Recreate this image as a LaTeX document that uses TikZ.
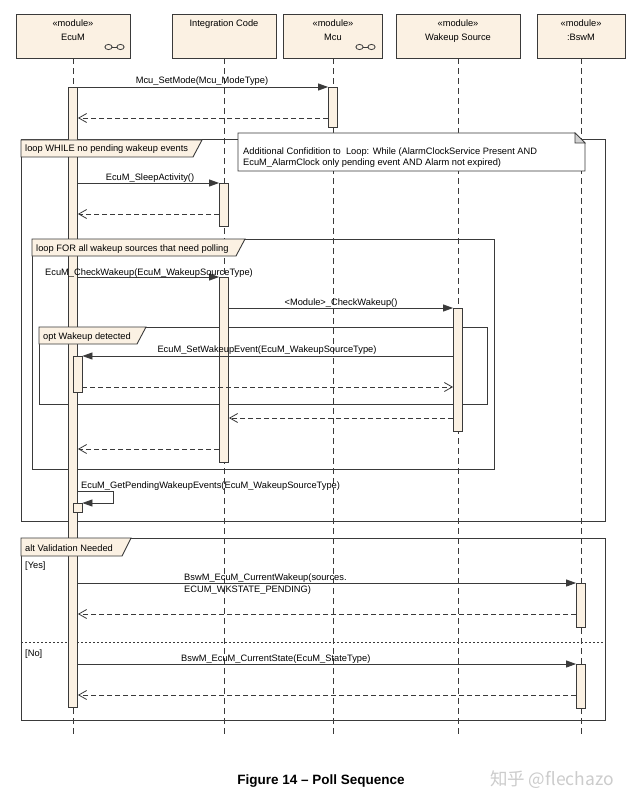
\documentclass[tikz,border=0pt]{standalone}
\usepackage{fontspec}
\setmainfont{Liberation Sans}
\newfontfamily\cjkfont{Noto Sans CJK SC}
\usetikzlibrary{arrows.meta}
\definecolor{cream}{HTML}{FBF1E3}
\definecolor{ln}{HTML}{3A3A3A}
\begin{document}
\begin{tikzpicture}[x=1pt,y=-1pt,font=\fontsize{9.3}{10}\selectfont,
  lifeline/.style={draw=ln,dash pattern=on 6pt off 4pt,line width=0.8pt},
  headbox/.style={draw=ln,fill=cream,line width=0.9pt,inner sep=0pt},
  actbar/.style={draw=ln,fill=cream,line width=0.8pt,inner sep=0pt,minimum width=9pt,anchor=north},
  frameline/.style={draw=ln,line width=1pt},
  tagbox/.style={draw=ln,fill=cream,line width=0.9pt},
  callmsg/.style={draw=ln,line width=0.8pt,-{Triangle[length=10pt,width=7pt]}},
  retmsg/.style={draw=ln,line width=0.8pt,dash pattern=on 5pt off 3pt,-{Straight Barb[length=8pt,width=9pt]}},
  lbl/.style={inner sep=0pt,anchor=base,text=black},
  lblw/.style={inner sep=0pt,anchor=base west,text=black},
  inf/.style={draw=ln,line width=0.8pt},
]
\fill[white] (0,0) rectangle (634,805);
\useasboundingbox (0,0) rectangle (634,805);

% ---- heads
\node[headbox,minimum width=114pt,minimum height=44pt] (hE) at (73,36) {};
\node[headbox,minimum width=104pt,minimum height=44pt] (hI) at (224,36) {};
\node[headbox,minimum width=99pt,minimum height=44pt] (hM) at (333,36) {};
\node[headbox,minimum width=124pt,minimum height=44pt] (hW) at (458,36) {};
\node[headbox,minimum width=88pt,minimum height=44pt] (hB) at (581,36) {};
\node[lbl] (tE1) at (73,27) {«module»};
\node[lbl] (tE2) at (73,41) {EcuM};
\node[lbl] (tI1) at (224,27) {Integration Code};
\node[lbl] (tM1) at (333,27) {«module»};
\node[lbl] (tM2) at (333,41) {Mcu};
\node[lbl] (tW1) at (458,27) {«module»};
\node[lbl] (tW2) at (458,41) {Wakeup Source};
\node[lbl] (tB1) at (581,27) {«module»};
\node[lbl] (tB2) at (581,41) {:BswM};
% component symbols
\draw[inf] (108.5,47) ellipse [x radius=3.6pt,y radius=2.6pt];
\draw[inf] (120.5,47) ellipse [x radius=3.6pt,y radius=2.6pt];
\draw[inf] (112.1,47) -- (116.9,47);
\draw[inf] (359.5,47) ellipse [x radius=3.6pt,y radius=2.6pt];
\draw[inf] (371.5,47) ellipse [x radius=3.6pt,y radius=2.6pt];
\draw[inf] (363.1,47) -- (367.9,47);

% ---- lifelines
\coordinate (eE) at (73,738);
\coordinate (eI) at (224,738);
\coordinate (eM) at (333,738);
\coordinate (eW) at (458,738);
\coordinate (eB) at (581,738);
\draw[lifeline] (hE.south) -- (eE);
\draw[lifeline] (hI.south) -- (eI);
\draw[lifeline] (hM.south) -- (eM);
\draw[lifeline] (hW.south) -- (eW);
\draw[lifeline] (hB.south) -- (eB);

% ---- frames
\draw[frameline] (21,140) rectangle (605,521);
\draw[frameline] (32,239) rectangle (494,469);
\draw[frameline] (39,327) rectangle (487,404);
\draw[frameline] (21,538) rectangle (605,720);
\draw[draw=ln,line width=0.9pt,dash pattern=on 2pt off 2pt] (21,642) -- (605,642);

% ---- activations
\node[actbar,minimum height=620pt] (aE1) at (73,87) {};
\node[actbar,minimum height=40pt] (aM1) at (333,87) {};
\node[actbar,minimum height=43pt] (aI1) at (224,183) {};
\node[actbar,minimum height=185pt] (aI2) at (224,277) {};
\node[actbar,minimum height=123pt] (aW1) at (458,308) {};
\node[actbar,minimum height=36pt] (aE2) at (77.5,356) {};
\node[actbar,minimum height=9pt] (aE3) at (77.5,503) {};
\node[actbar,minimum height=44pt] (aB1) at (581,583) {};
\node[actbar,minimum height=44pt] (aB2) at (581,664) {};

% ---- frame tags
\draw[tagbox] (21,140) -- (202,140) -- (193,157) -- (21,157) -- cycle;
\node[lblw] (f1) at (25,152) {loop WHILE no pending wakeup events};
\draw[tagbox] (32,239) -- (245,239) -- (236,256) -- (32,256) -- cycle;
\node[lblw] (f2) at (36,251) {loop FOR all wakeup sources that need polling};
\draw[tagbox] (39,327) -- (146,327) -- (137,344) -- (39,344) -- cycle;
\node[lblw] (f3) at (43,339) {opt Wakeup detected};
\draw[tagbox] (21,538) -- (131,538) -- (122,556) -- (21,556) -- cycle;
\node[lblw] (f4) at (25,551) {alt Validation Needed};
\node[lblw] (g1) at (25,568) {[Yes]};
\node[lblw] (g2) at (25,656) {[No]};

% ---- note
\draw[draw=ln,fill=white,line width=0.9pt] (238,133) -- (575,133) -- (585,143) -- (585,171) -- (238,171) -- cycle;
\draw[draw=ln,fill=gray!35,line width=0.7pt] (575,133) -- (575,143) -- (585,143) -- cycle;
\node[lblw] (n1) at (243,155) {Additional Confidition to~ Loop: While (AlarmClockService Present AND};
\node[lblw] (n2) at (243,166) {EcuM\_AlarmClock only pending event AND Alarm not expired)};

% ---- messages
\draw[callmsg] (aE1.north east) -- (aM1.north west);
\node[lbl] (m1) at (202,84) {Mcu\_SetMode(Mcu\_ModeType)};
\draw[retmsg] ([yshift=-31pt]aM1.north west) -- ([yshift=-31pt]aE1.north east);

\draw[callmsg] ([yshift=-96pt]aE1.north east) -- (aI1.north west);
\node[lbl] (m3) at (150,180) {EcuM\_SleepActivity()};
\draw[retmsg] ([yshift=-31pt]aI1.north west) -- ([yshift=-127pt]aE1.north east);

\draw[callmsg] ([yshift=-190pt]aE1.north east) -- (aI2.north west);
\node[lbl] (m5) at (149,275) {EcuM\_CheckWakeup(EcuM\_WakeupSourceType)};

\draw[callmsg] ([yshift=-31pt]aI2.north east) -- (aW1.north west);
\node[lbl] (m6) at (341,305) {<Module>\_CheckWakeup()};

\draw[callmsg] ([yshift=-48pt]aW1.north west) -- (aE2.north east);
\node[lbl] (m7) at (267,352) {EcuM\_SetWakeupEvent(EcuM\_WakeupSourceType)};
\draw[retmsg] ([yshift=-31pt]aE2.north east) -- ([yshift=-79pt]aW1.north west);
\draw[retmsg] ([yshift=-110pt]aW1.north west) -- ([yshift=-141pt]aI2.north east);
\draw[retmsg] ([yshift=-172pt]aI2.north west) -- ([yshift=-362pt]aE1.north east);

\draw[callmsg] ([yshift=-404pt]aE1.north east) -- ++(35.5,0) -- ++(0,12) -- (aE3.north east);
\node[lblw] (m11) at (81,488) {EcuM\_GetPendingWakeupEvents(EcuM\_WakeupSourceType)};

\draw[callmsg] ([yshift=-496pt]aE1.north east) -- (aB1.north west);
\node[lblw] (m12a) at (184,580) {BswM\_EcuM\_CurrentWakeup(sources.};
\node[lblw] (m12b) at (184,592) {ECUM\_WKSTATE\_PENDING)};
\draw[retmsg] ([yshift=-31pt]aB1.north west) -- ([yshift=-527pt]aE1.north east);

\draw[callmsg] ([yshift=-577pt]aE1.north east) -- (aB2.north west);
\node[lblw] (m14) at (181,661) {BswM\_EcuM\_CurrentState(EcuM\_StateType)};
\draw[retmsg] ([yshift=-31pt]aB2.north west) -- ([yshift=-608pt]aE1.north east);

% ---- caption
\node[font=\fontsize{13.5}{15}\selectfont\bfseries] (cap) at (321,781) {Figure 14 – Poll Sequence};
\node[font=\cjkfont\fontsize{17.5}{19}\selectfont,text=gray!40] (wm) at (552,780) {知乎 @flechazo};
\end{tikzpicture}
\end{document}
